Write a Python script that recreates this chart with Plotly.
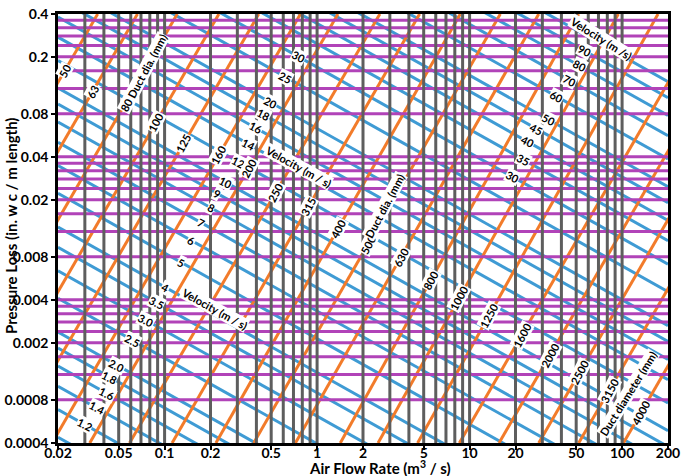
import math
import plotly.graph_objects as go

# ---------------- data ----------------
X_TICKS = [0.02, 0.05, 0.1, 0.2, 0.5, 1, 2, 5, 10, 20, 50, 100, 200]
X_TICK_TEXT = ["0.02", "0.05", "0.1", "0.2", "0.5", "1", "2", "5", "10", "20", "50", "100", "200"]
Y_TICKS = [0.0004, 0.0008, 0.002, 0.004, 0.008, 0.02, 0.04, 0.08, 0.2, 0.4]
Y_TICK_TEXT = ["0.0004", "0.0008", "0.002", "0.004", "0.008", "0.02", "0.04", "0.08", "0.2", "0.4"]

X_RANGE = [0.02, 200]
Y_RANGE = [0.0004, 0.4]

# grey vertical grid lines (air flow, m3/s)
FLOW_GRID = [0.03, 0.04, 0.05, 0.06, 0.07, 0.08, 0.09,
             0.1, 0.2, 0.3, 0.4, 0.5, 0.6, 0.7, 0.8, 0.9,
             1, 2, 3, 4, 5, 6, 7, 8, 9,
             10, 20, 30, 40, 50, 60, 70, 80, 90, 100]

# magenta horizontal grid lines, drawn at round Pa/m values
PA_GRID = [0.2, 0.3, 0.4, 0.5, 0.6, 0.7, 0.8, 0.9,
           1, 2, 3, 4, 5, 6, 7, 8, 9,
           10, 20, 30, 40, 50, 60, 70, 80, 90]
PA_PER_INWC = 249.09

# duct diameter lines (orange): flow where each meets the top (0.4) and bottom (0.0004) edges
DUCT_DIA_MM = [50, 63, 80, 100, 125, 160, 200, 250, 315, 400, 500, 630, 800, 1000,
               1250, 1600, 2000, 2500, 3150, 4000]
DUCT_Q_AT_TOP = [0.0364, 0.0664, 0.121, 0.227, 0.414, 0.778, 1.37, 2.58, 4.70, 8.69,
                 15.9, 28.4, 51.9, 94.5, 172, 365, 665, 1210, 2210, 4350]
DUCT_Q_AT_BOTTOM = [0.00085, 0.00156, 0.00284, 0.00533, 0.00972, 0.0183, 0.0323, 0.0589,
                    0.112, 0.217, 0.384, 0.721, 1.42, 2.51, 4.56, 8.57, 15.6, 28.4, 51.9, 102]

# velocity lines (blue): pressure loss where each meets the left (0.02) and right (200) edges
VELOCITY = [1.0, 1.2, 1.4, 1.6, 1.8, 2.0, 2.5, 3.0, 3.5, 4, 5, 6, 7, 8, 9, 10, 12, 14, 16,
            18, 20, 25, 30, 35, 40, 45, 50, 60, 70, 80, 90, 100]
VEL_P_AT_LEFT = [4.39e-4, 6.85e-4, 9.98e-4, 1.383e-3, 1.844e-3, 2.384e-3, 4.11e-3, 6.41e-3,
                 9.34e-3, 0.01294, 0.02232, 0.03482, 0.0507, 0.0703, 0.0937, 0.1212, 0.189,
                 0.2754, 0.3815, 0.5086, 0.658, 1.134, 1.769, 2.578, 3.57, 4.76, 6.16, 9.60,
                 13.99, 19.39, 25.84, 33.42]
VEL_P_AT_RIGHT = [1.77e-6, 2.76e-6, 4.02e-6, 5.57e-6, 7.43e-6, 9.61e-6, 1.656e-5, 2.584e-5,
                  3.765e-5, 5.22e-5, 8.99e-5, 1.403e-4, 2.044e-4, 2.831e-4, 3.773e-4, 4.88e-4,
                  7.62e-4, 1.11e-3, 1.537e-3, 2.049e-3, 2.65e-3, 4.57e-3, 7.13e-3, 0.01038,
                  0.01438, 0.01918, 0.0248, 0.0387, 0.0564, 0.0781, 0.1041, 0.1346]

# labels: (text, line value, flow where label sits)
VEL_LABELS = [("1.2", 1.2, 0.030), ("1.4", 1.4, 0.0359), ("1.6", 1.6, 0.0417), ("1.8", 1.8, 0.0436),
              ("2.0", 2.0, 0.0485), ("2.5", 2.5, 0.0616), ("3.0", 3.0, 0.076), ("3.5", 3.5, 0.0883),
              ("4", 4, 0.101), ("5", 5, 0.128), ("6", 6, 0.149), ("7", 7, 0.173), ("8", 8, 0.202),
              ("9", 9, 0.220), ("10", 10, 0.252), ("12", 12, 0.307), ("14", 14, 0.356),
              ("16", 16, 0.396), ("18", 18, 0.446), ("20", 20, 0.496), ("25", 25, 0.621),
              ("30", 30, 0.754),
              ("30", 30, 18.98), ("35", 35, 22.4), ("40", 40, 24.1), ("45", 45, 27.6),
              ("50", 50, 33.0), ("60", 60, 37.2), ("70", 70, 45.3), ("80", 80, 52.6), ("90", 90, 56.7)]
DIA_LABELS = [("50", 50, 0.0222), ("63", 63, 0.0338), ("80 Duct dia. (mm)", 80, 0.0727),
              ("100", 100, 0.0883), ("125", 125, 0.134), ("160", 160, 0.227), ("200", 200, 0.356),
              ("250", 250, 0.534), ("315", 315, 0.877), ("400", 400, 1.374), ("500", 500, 2.156),
              ("630", 630, 3.54), ("800", 800, 5.55), ("1000", 1000, 8.57), ("1250", 1250, 13.4),
              ("1600", 1600, 22.0), ("2000", 2000, 33.6), ("2500", 2500, 52.6),
              ("3150", 3150, 82.5), ("4000", 4000, 133)]
FREE_LABELS = [("Velocity (m / s)", 0.211, 0.00349, 29),
               ("Velocity (m / s)", 0.754, 0.0345, 29),
               ("Velocity (m /s)", 73.2, 0.2697, 32),
               ("Duct dia. (mm)", 2.78, 0.01836, -62),
               ("Duct diameter (mm)", 109.7, 0.000883, -58)]

# ---------------- styling ----------------
BLUE = "#3f9bd4"
ORANGE = "#f27b2a"
MAGENTA = "#b143b8"
GREY = "#5e5e5e"
FONT = "Lato"

L = math.log10


def vel_p(v, q):
    i = VELOCITY.index(v)
    a, b = L(VEL_P_AT_LEFT[i]), L(VEL_P_AT_RIGHT[i])
    t = (L(q) - L(X_RANGE[0])) / (L(X_RANGE[1]) - L(X_RANGE[0]))
    return 10 ** (a + (b - a) * t)


def dia_p(d, q):
    j = DUCT_DIA_MM.index(d)
    qb, qt = L(DUCT_Q_AT_BOTTOM[j]), L(DUCT_Q_AT_TOP[j])
    t = (L(q) - qb) / (qt - qb)
    return 10 ** (L(Y_RANGE[0]) + (L(Y_RANGE[1]) - L(Y_RANGE[0])) * t)


fig = go.Figure()

# velocity lines
xs, ys = [], []
for pl, pr in zip(VEL_P_AT_LEFT, VEL_P_AT_RIGHT):
    xs += [X_RANGE[0], X_RANGE[1], None]
    ys += [pl, pr, None]
fig.add_trace(go.Scatter(x=xs, y=ys, mode="lines", line=dict(color=BLUE, width=3),
                         hoverinfo="skip", showlegend=False))

# diameter lines
xs, ys = [], []
for qb, qt in zip(DUCT_Q_AT_BOTTOM, DUCT_Q_AT_TOP):
    xs += [qb, qt, None]
    ys += [Y_RANGE[0], Y_RANGE[1], None]
fig.add_trace(go.Scatter(x=xs, y=ys, mode="lines", line=dict(color=ORANGE, width=3),
                         hoverinfo="skip", showlegend=False))

# magenta horizontal lines
xs, ys = [], []
for pa in PA_GRID:
    xs += [X_RANGE[0], X_RANGE[1], None]
    ys += [pa / PA_PER_INWC, pa / PA_PER_INWC, None]
fig.add_trace(go.Scatter(x=xs, y=ys, mode="lines", line=dict(color=MAGENTA, width=3),
                         hoverinfo="skip", showlegend=False))

# grey vertical lines
xs, ys = [], []
for q in FLOW_GRID:
    xs += [q, q, None]
    ys += [Y_RANGE[0], Y_RANGE[1], None]
fig.add_trace(go.Scatter(x=xs, y=ys, mode="lines", line=dict(color=GREY, width=3),
                         hoverinfo="skip", showlegend=False))

ann = []
lab_font = dict(family=FONT, size=11, color="black", weight="bold")
for text, v, q in VEL_LABELS:
    ann.append(dict(x=L(q), y=L(vel_p(v, q)), text=text, showarrow=False, textangle=27,
                    bgcolor="white", borderpad=0, font=lab_font))
for text, d, q in DIA_LABELS:
    ann.append(dict(x=L(q), y=L(dia_p(d, q)), text=text, showarrow=False, textangle=-62,
                    bgcolor="white", borderpad=0, font=lab_font))
for text, q, p, ang in FREE_LABELS:
    ann.append(dict(x=L(q), y=L(p), text=text, showarrow=False, textangle=ang,
                    bgcolor="white", borderpad=0, font=lab_font))

ann.append(dict(xref="paper", yref="paper", x=0.528, y=-0.058, text="Air Flow Rate (m<sup>3</sup> / s)",
                showarrow=False, xanchor="center", yanchor="middle",
                font=dict(family=FONT, size=15, color="black", weight="bold")))
ann.append(dict(xref="paper", yref="paper", x=-0.076, y=0.505, text="Pressure Loss (in. w c / m length)",
                showarrow=False, textangle=-90, xanchor="center", yanchor="middle",
                font=dict(family=FONT, size=15, color="black", weight="bold")))

axis_common = dict(type="log", showgrid=False, zeroline=False, showline=True, linecolor="black",
                   linewidth=2.5, mirror=True, ticks="outside", ticklen=4, tickwidth=1.5,
                   tickcolor="black", ticklabeloverflow="allow",
                   tickfont=dict(family=FONT, size=14, color="black", weight="bold"))

fig.update_layout(
    width=685, height=476, autosize=False,
    margin=dict(l=58, r=13, t=5, b=33),
    paper_bgcolor="white", plot_bgcolor="white",
    xaxis=dict(range=[L(X_RANGE[0]), L(X_RANGE[1])], tickmode="array", tickvals=X_TICKS,
               ticktext=X_TICK_TEXT, ticklabelstandoff=-9, **axis_common),
    yaxis=dict(range=[L(Y_RANGE[0]), L(Y_RANGE[1]) + 1e-9], tickmode="array", tickvals=Y_TICKS,
               ticktext=Y_TICK_TEXT, **axis_common),
    annotations=ann,
    showlegend=False,
)

fig.write_html("out.html", config={"displayModeBar": False},
               post_script="document.body.style.margin='0px';")
